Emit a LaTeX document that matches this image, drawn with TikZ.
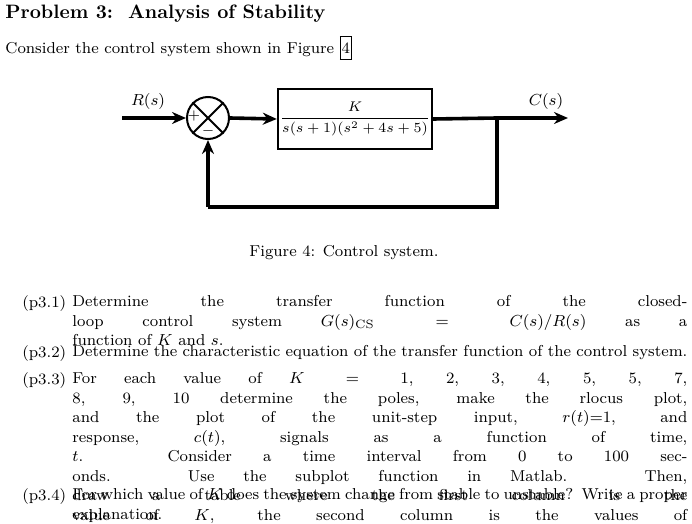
\documentclass[tikz,border=0pt]{standalone}
\usetikzlibrary{arrows.meta}
\begin{document}
\begin{tikzpicture}[x=0.5pt,y=-0.5pt,
  sig/.style={line width=1.8pt},
  arr/.style={sig,-{Stealth[length=7pt,width=6pt]}},
  para/.style={anchor=north west,inner sep=0pt,text width=307.5pt,align=justify,font=\fontsize{7.9}{9.75}\selectfont},
  lab/.style={anchor=north west,inner sep=0pt,font=\fontsize{7.9}{9.75}\selectfont}]
\useasboundingbox (0,0) rectangle (692,524);
\node[anchor=west,inner sep=0pt,font=\fontsize{9.7}{12}\selectfont\bfseries] (title) at (5,14) {Problem 3:\ \ Analysis of Stability};
\node[anchor=west,inner sep=0pt,font=\fontsize{7.9}{9.75}\selectfont] (intro) at (5,48) {Consider the control system shown in Figure \fbox{\kern-2.5pt4\kern-2.5pt}};
% diagram
\coordinate (in) at (122,118);
\node[draw,circle,line width=1pt,minimum size=21pt,inner sep=0pt] (sum) at (208,118) {};
\draw[line width=1pt] (sum.north west)--(sum.south east) (sum.north east)--(sum.south west);
\node[font=\scriptsize,inner sep=0pt] (plus) at (194,116) {$+$};
\node[font=\scriptsize,inner sep=0pt] (minus) at (208,131) {$-$};
\node[draw,line width=1pt,minimum width=73.5pt,minimum height=30pt,inner sep=1pt,font=\fontsize{7.5}{9}\selectfont] (G) at (355,119) {$\displaystyle\frac{K}{s(s+1)(s^2+4s+5)}$};
\coordinate (br) at (497,118);
\coordinate (out) at (568,118);
\coordinate (bot) at (497,207);
\coordinate (botl) at (208,207);
\draw[arr] (in) -- (sum.west);
\draw[arr] (sum.east) -- (G.west);
\draw[sig] (G.east) -- (br);
\draw[arr] (br) -- (out);
\draw[sig] (br) -- (bot) -- (botl);
\draw[arr] (botl) -- (sum.south);
\node[font=\fontsize{8}{9}\selectfont] (R) at (148,102) {$R(s)$};
\node[font=\fontsize{8}{9}\selectfont] (C) at (546,102) {$C(s)$};
\node[inner sep=0pt,font=\fontsize{7.9}{9.75}\selectfont] (cap) at (344,253) {Figure 4: Control system.};
% items
\node[lab] (l1) at (22,295) {(p3.1)};
\node[para] (p1) at (72,295) {Determine the transfer function of the closed-loop control system $G(s)_{\mathrm{CS}}=C(s)/R(s)$ as a\linebreak function of $K$ and $s$.};
\node[lab] (l2) at (22,345) {(p3.2)};
\node[para] (p2) at (72,345) {Determine the characteristic equation of the transfer function of the control system.};
\node[lab] (l3) at (22,372) {(p3.3)};
\node[para] (p3) at (72,372) {For each value of $K=1$, 2, 3, 4, 5, 5, 7, 8, 9, 10 determine the poles, make the rlocus plot,\linebreak and the plot of the unit-step input, $r(t)$=1, and response, $c(t)$, signals as a function of time,\linebreak $t$. Consider a time interval from 0 to 100 seconds. Use the subplot function in Matlab. Then,\linebreak draw a table where the first column is the value of $K$, the second column is the values of\linebreak the poles for each $K$, and the third column is the type of stability signal: stable, marginally\linebreak stable, and unstable.};
\node[lab] (l4) at (22,488) {(p3.4)};
\node[para] (p4) at (72,488) {For which value of $K$ does the system change from stable to unstable?\ \ Write a proper\linebreak explanation.};
\end{tikzpicture}
\end{document}
